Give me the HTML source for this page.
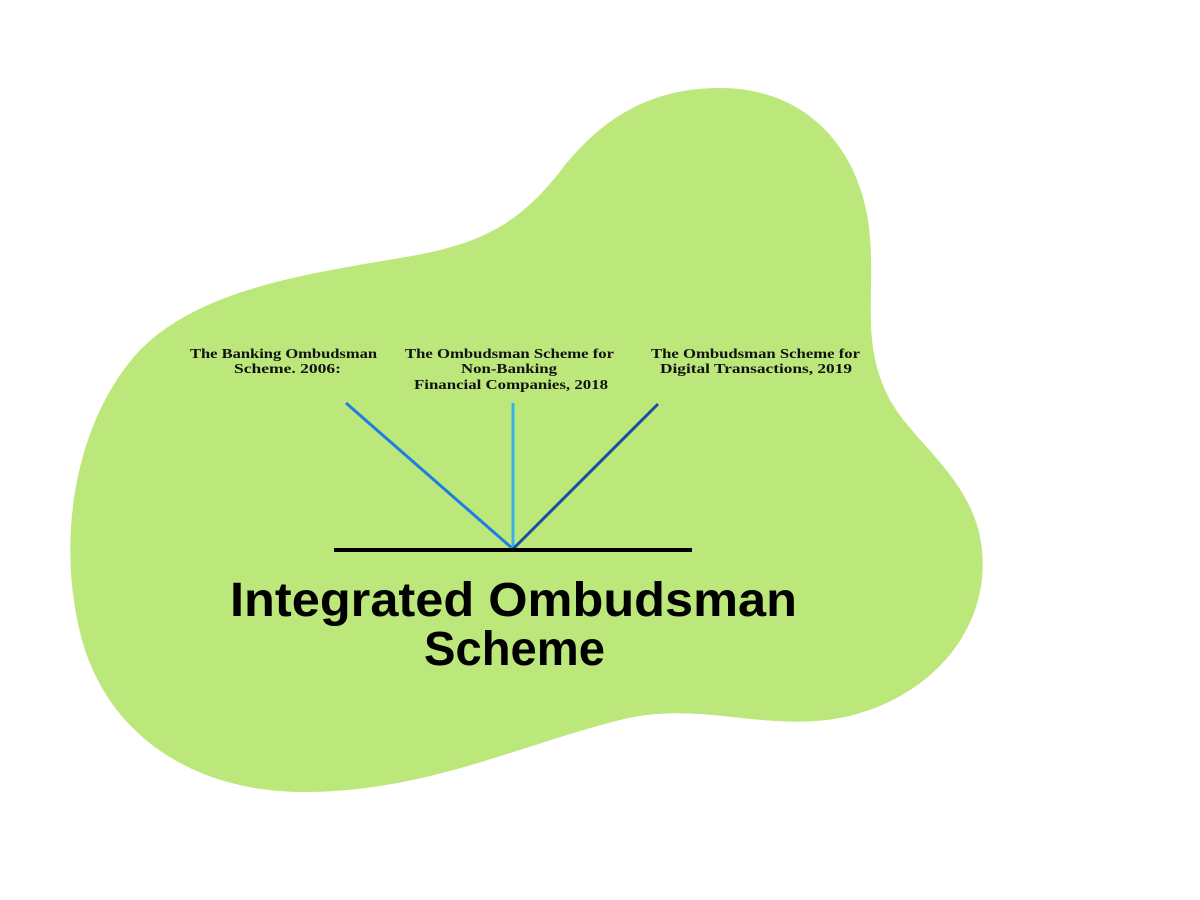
<!DOCTYPE html>
<html><head><meta charset="utf-8"><style>
html,body{margin:0;padding:0;background:#fff;}
svg{display:block}
</style></head><body>
<svg width="1200" height="900" viewBox="0 0 1200 900" xmlns="http://www.w3.org/2000/svg">
<path fill="#bce77b" d="M720,88 C800,88 855,140 868,220 C878,290 858,340 890,400 C915,445 975,480 982,550 C990,630 930,700 840,718 C760,732 700,700 620,720 C520,745 430,790 310,792 C200,794 110,740 82,640 C55,540 75,420 140,350 C200,290 300,275 400,258 C480,245 520,225 565,165 C610,110 660,88 720,88 Z"/>
<g font-family="'Liberation Serif',serif" font-weight="bold" font-size="14" fill="#111" lengthAdjust="spacingAndGlyphs">
<text x="190" y="358" textLength="187" lengthAdjust="spacingAndGlyphs">The Banking Ombudsman</text>
<text x="234" y="373" textLength="107" lengthAdjust="spacingAndGlyphs">Scheme. 2006:</text>
<text x="405" y="358" textLength="209" lengthAdjust="spacingAndGlyphs">The Ombudsman Scheme for</text>
<text x="461" y="373" textLength="96" lengthAdjust="spacingAndGlyphs">Non-Banking</text>
<text x="414" y="389" textLength="194" lengthAdjust="spacingAndGlyphs">Financial Companies, 2018</text>
<text x="651" y="358" textLength="209" lengthAdjust="spacingAndGlyphs">The Ombudsman Scheme for</text>
<text x="660" y="373" textLength="192" lengthAdjust="spacingAndGlyphs">Digital Transactions, 2019</text>
</g>
<line x1="346" y1="403" x2="513" y2="549" stroke="#1f7ee0" stroke-width="3"/>
<line x1="513" y1="403" x2="513" y2="549" stroke="#36b3e6" stroke-width="3"/>
<line x1="658" y1="404" x2="513" y2="549" stroke="#1a4f9c" stroke-width="3"/>
<line x1="334" y1="550" x2="692" y2="550" stroke="#000" stroke-width="4"/>
<g font-family="'Liberation Sans',sans-serif" font-weight="bold" font-size="48" fill="#000">
<text x="230" y="616" textLength="567" lengthAdjust="spacingAndGlyphs">Integrated Ombudsman</text>
<text x="424" y="665" textLength="181" lengthAdjust="spacingAndGlyphs">Scheme</text>
</g>
</svg>
</body></html>
